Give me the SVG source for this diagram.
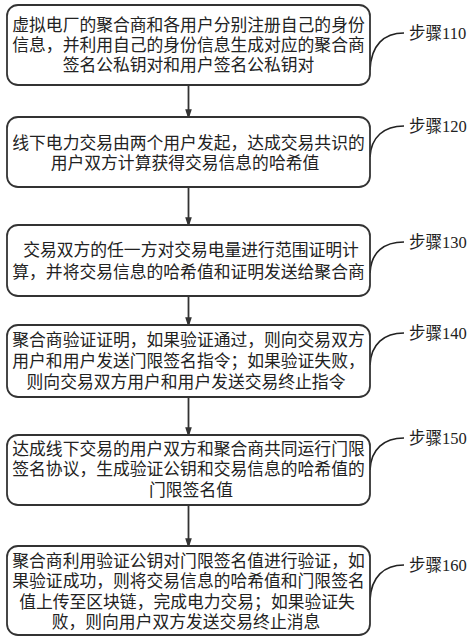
<svg xmlns="http://www.w3.org/2000/svg" width="474" height="642" viewBox="0 0 474 642">
<style>
.box{fill:#fff;stroke:#333;stroke-width:1.8}
.t{font-family:"Liberation Serif","Noto Sans CJK SC",serif;font-size:16.8px;fill:#222;text-anchor:middle;dominant-baseline:central}
.lbl{font-family:"Liberation Serif","Noto Sans CJK SC",serif;font-size:16.5px;fill:#222;dominant-baseline:central}
.conn{fill:none;stroke:#333;stroke-width:1.8}
.lead{fill:none;stroke:#222;stroke-width:1.6}
</style>
<defs>
<marker id="ah" markerWidth="10" markerHeight="15" refX="10" refY="5" orient="auto" markerUnits="userSpaceOnUse" viewBox="0 0 15 10">
<path d="M0,0 L15,5 L0,10 Z" fill="#333"/>
</marker>
</defs>
<rect width="474" height="642" fill="#fff"/>
<g id="connectors">
<line class="conn" x1="188.5" y1="85" x2="188.5" y2="116" marker-end="url(#ah)"/>
<line class="conn" x1="188.5" y1="187" x2="188.5" y2="224" marker-end="url(#ah)"/>
<line class="conn" x1="188.5" y1="296" x2="188.5" y2="324" marker-end="url(#ah)"/>
<line class="conn" x1="188.5" y1="397" x2="188.5" y2="434" marker-end="url(#ah)"/>
<line class="conn" x1="188.5" y1="505" x2="188.5" y2="545" marker-end="url(#ah)"/>
<path class="lead" d="M370,70 C371,45 384,33 404,33"/>
<path class="lead" d="M370,157 C371,137 384,126 404,126"/>
<path class="lead" d="M370,273 C371,252 384,242 404,242"/>
<path class="lead" d="M370,365 C371,344 384,333 404,333"/>
<path class="lead" d="M370,470 C371,449 384,438 404,438"/>
<path class="lead" d="M370,600 C371,577 384,565 404,565"/>
</g>
<g id="step110">
<rect class="box" x="7" y="5" width="363" height="80" rx="11"/>
<text class="t" x="188.5" y="25">虚拟电厂的聚合商和各用户分别注册自己的身份</text>
<text class="t" x="188.5" y="45">信息，并利用自己的身份信息生成对应的聚合商</text>
<text class="t" x="188.5" y="65">签名公私钥对和用户签名公私钥对</text>
<text class="lbl" x="409" y="33">步骤110</text>
</g>
<g id="step120">
<rect class="box" x="7" y="117" width="363" height="70" rx="11"/>
<text class="t" x="188.5" y="143">线下电力交易由两个用户发起，达成交易共识的</text>
<text class="t" x="185" y="163">用户双方计算获得交易信息的哈希值</text>
<text class="lbl" x="409" y="126">步骤120</text>
</g>
<g id="step130">
<rect class="box" x="7" y="225" width="363" height="71" rx="11"/>
<text class="t" x="191" y="250">交易双方的任一方对交易电量进行范围证明计</text>
<text class="t" x="188.5" y="272">算，并将交易信息的哈希值和证明发送给聚合商</text>
<text class="lbl" x="409" y="242">步骤130</text>
</g>
<g id="step140">
<rect class="box" x="7" y="325" width="363" height="72" rx="11"/>
<text class="t" x="188.5" y="340">聚合商验证证明，如果验证通过，则向交易双方</text>
<text class="t" x="188.5" y="361">用户和用户发送门限签名指令；如果验证失败，</text>
<text class="t" x="186" y="382">则向交易双方用户和用户发送交易终止指令</text>
<text class="lbl" x="409" y="333">步骤140</text>
</g>
<g id="step150">
<rect class="box" x="7" y="435" width="363" height="70" rx="11"/>
<text class="t" x="188.5" y="449">达成线下交易的用户双方和聚合商共同运行门限</text>
<text class="t" x="188.5" y="469">签名协议，生成验证公钥和交易信息的哈希值的</text>
<text class="t" x="191" y="490">门限签名值</text>
<text class="lbl" x="409" y="438">步骤150</text>
</g>
<g id="step160">
<rect class="box" x="7" y="546" width="363" height="89" rx="11"/>
<text class="t" x="188.5" y="561">聚合商利用验证公钥对门限签名值进行验证，如</text>
<text class="t" x="188.5" y="581">果验证成功，则将交易信息的哈希值和门限签名</text>
<text class="t" x="187" y="602">值上传至区块链，完成电力交易；如果验证失</text>
<text class="t" x="186" y="622">败，则向用户双方发送交易终止消息</text>
<text class="lbl" x="409" y="565">步骤160</text>
</g>
</svg>
